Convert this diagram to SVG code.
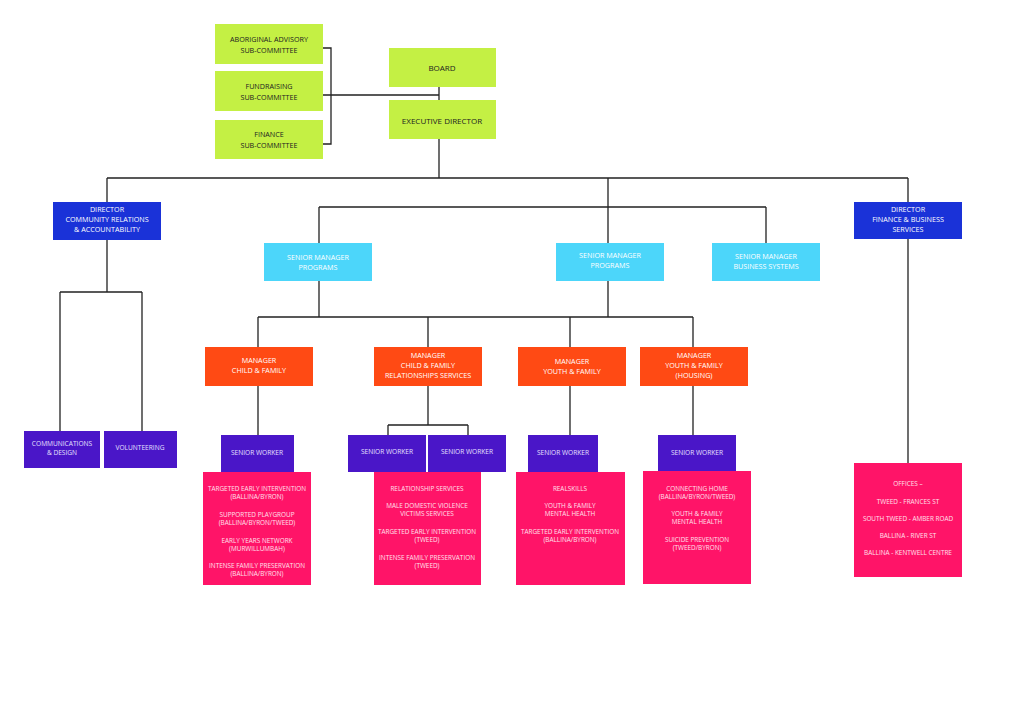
<svg xmlns="http://www.w3.org/2000/svg" width="1024" height="724" viewBox="0 0 1024 724">
<style>
text{font-family:"Open Sans","Liberation Sans",sans-serif;font-size:7.2px;text-anchor:middle}
.g rect{fill:#c4f044}.g text{fill:#222}
.b rect{fill:#1a32d8}.b text{fill:#fff}
.c rect{fill:#4cd6fa}.c text{fill:#fff}
.o rect{fill:#ff4a14}.o text{fill:#fff}
.p rect{fill:#4a16c8}.p text{fill:#e6e0ff;font-size:6.6px}
.k rect{fill:#ff1468}.k text{fill:#ffe0ec;font-size:6.4px}
#connectors path{fill:none;stroke:#222;stroke-width:1.3}
</style>
<rect width="1024" height="724" fill="#fff"/>
<g id="connectors">
<path d="M323 48H331V144H323M323 95H439M439 87V100M439 139V178M107 178H908M107 178V202M908 178V463M608 178V207M319 207H766M319 207V243M608 207V243M766 207V243"/>
<path d="M319 281V317M608 281V317M258 317H693M258 317V347M428 317V347M570 317V347M693 317V347"/>
<path d="M258 386V435M428 386V425M388 425H468M388 425V435M468 425V435M570 386V435M693 386V435"/>
<path d="M107 240V292M60 292H142M60 292V431M142 292V431"/>
</g>
<g id="aboriginal" class="g"><rect x="215" y="24" width="108" height="40"/><text x="269" y="42">ABORIGINAL ADVISORY</text><text x="269" y="53">SUB-COMMITTEE</text></g>
<g id="fundraising" class="g"><rect x="215" y="71" width="108" height="40"/><text x="269" y="89">FUNDRAISING</text><text x="269" y="100">SUB-COMMITTEE</text></g>
<g id="finance" class="g"><rect x="215" y="120" width="108" height="39"/><text x="269" y="137">FINANCE</text><text x="269" y="148">SUB-COMMITTEE</text></g>
<g id="board" class="g"><rect x="389" y="48" width="107" height="39"/><text x="442" y="71" style="font-size:8px">BOARD</text></g>
<g id="exec" class="g"><rect x="389" y="100" width="107" height="39"/><text x="442" y="124" style="font-size:8px">EXECUTIVE DIRECTOR</text></g>
<g id="dir-cr" class="b"><rect x="53" y="202" width="108" height="38"/><text x="107" y="212">DIRECTOR</text><text x="107" y="222">COMMUNITY RELATIONS</text><text x="107" y="232">&amp; ACCOUNTABILITY</text></g>
<g id="dir-fbs" class="b"><rect x="854" y="202" width="108" height="37"/><text x="908" y="212">DIRECTOR</text><text x="908" y="222">FINANCE &amp; BUSINESS</text><text x="908" y="232">SERVICES</text></g>
<g id="smp1" class="c"><rect x="264" y="243" width="108" height="38"/><text x="318" y="260">SENIOR MANAGER</text><text x="318" y="270">PROGRAMS</text></g>
<g id="smp2" class="c"><rect x="556" y="243" width="108" height="38"/><text x="610" y="258">SENIOR MANAGER</text><text x="610" y="268">PROGRAMS</text></g>
<g id="smbs" class="c"><rect x="712" y="243" width="108" height="38"/><text x="766" y="259">SENIOR MANAGER</text><text x="766" y="269">BUSINESS SYSTEMS</text></g>
<g id="m1" class="o"><rect x="205" y="347" width="108" height="39"/><text x="259" y="363">MANAGER</text><text x="259" y="373">CHILD &amp; FAMILY</text></g>
<g id="m2" class="o"><rect x="374" y="347" width="108" height="39"/><text x="428" y="358">MANAGER</text><text x="428" y="368">CHILD &amp; FAMILY</text><text x="428" y="378">RELATIONSHIPS SERVICES</text></g>
<g id="m3" class="o"><rect x="518" y="347" width="108" height="39"/><text x="572" y="364">MANAGER</text><text x="572" y="374">YOUTH &amp; FAMILY</text></g>
<g id="m4" class="o"><rect x="640" y="347" width="108" height="39"/><text x="694" y="358">MANAGER</text><text x="694" y="368">YOUTH &amp; FAMILY</text><text x="694" y="378">(HOUSING)</text></g>
<g id="comms" class="p"><rect x="24" y="431" width="76" height="37"/><text x="62" y="446">COMMUNICATIONS</text><text x="62" y="455">&amp; DESIGN</text></g>
<g id="vol" class="p"><rect x="104" y="431" width="73" height="37"/><text x="140" y="450">VOLUNTEERING</text></g>
<g id="sw1" class="p"><rect x="221" y="435" width="73" height="37"/><text x="257" y="455">SENIOR WORKER</text></g>
<g id="sw2" class="p"><rect x="348" y="435" width="78" height="37"/><text x="387" y="454">SENIOR WORKER</text></g>
<g id="sw3" class="p"><rect x="428" y="435" width="78" height="37"/><text x="467" y="454">SENIOR WORKER</text></g>
<g id="sw4" class="p"><rect x="528" y="435" width="70" height="37"/><text x="563" y="455">SENIOR WORKER</text></g>
<g id="sw5" class="p"><rect x="658" y="435" width="78" height="36"/><text x="697" y="455">SENIOR WORKER</text></g>
<g id="s1" class="k"><rect x="203" y="472" width="108" height="113"/>
<text x="257" y="491">TARGETED EARLY INTERVENTION</text><text x="257" y="499">(BALLINA/BYRON)</text>
<text x="257" y="517">SUPPORTED PLAYGROUP</text><text x="257" y="525">(BALLINA/BYRON/TWEED)</text>
<text x="257" y="543">EARLY YEARS NETWORK</text><text x="257" y="551">(MURWILLUMBAH)</text>
<text x="257" y="568">INTENSE FAMILY PRESERVATION</text><text x="257" y="576">(BALLINA/BYRON)</text></g>
<g id="s2" class="k"><rect x="374" y="472" width="107" height="113"/>
<text x="427" y="491">RELATIONSHIP SERVICES</text>
<text x="427" y="508">MALE DOMESTIC VIOLENCE</text><text x="427" y="516">VICTIMS SERVICES</text>
<text x="427" y="534">TARGETED EARLY INTERVENTION</text><text x="427" y="542">(TWEED)</text>
<text x="427" y="560">INTENSE FAMILY PRESERVATION</text><text x="427" y="568">(TWEED)</text></g>
<g id="s3" class="k"><rect x="516" y="472" width="109" height="113"/>
<text x="570" y="491">REALSKILLS</text>
<text x="570" y="508">YOUTH &amp; FAMILY</text><text x="570" y="516">MENTAL HEALTH</text>
<text x="570" y="534">TARGETED EARLY INTERVENTION</text><text x="570" y="542">(BALLINA/BYRON)</text></g>
<g id="s4" class="k"><rect x="643" y="471" width="108" height="113"/>
<text x="697" y="491">CONNECTING HOME</text><text x="697" y="499">(BALLINA/BYRON/TWEED)</text>
<text x="697" y="516">YOUTH &amp; FAMILY</text><text x="697" y="524">MENTAL HEALTH</text>
<text x="697" y="542">SUICIDE PREVENTION</text><text x="697" y="550">(TWEED/BYRON)</text></g>
<g id="offices" class="k"><rect x="854" y="463" width="108" height="114"/>
<text x="908" y="486">OFFICES –</text>
<text x="908" y="504">TWEED - FRANCES ST</text>
<text x="908" y="521">SOUTH TWEED - AMBER ROAD</text>
<text x="908" y="538">BALLINA - RIVER ST</text>
<text x="908" y="555">BALLINA - KENTWELL CENTRE</text></g>
</svg>
